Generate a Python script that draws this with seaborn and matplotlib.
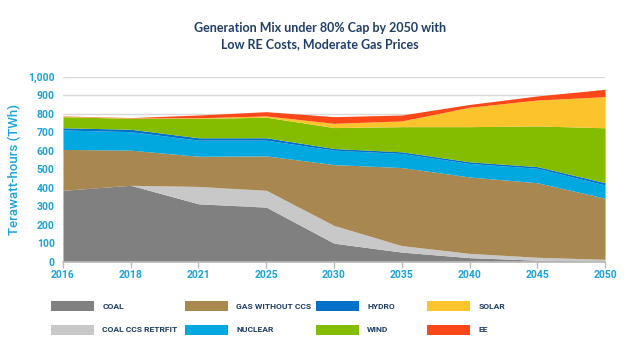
import numpy as np
import pandas as pd
import seaborn as sns
import matplotlib.pyplot as plt
from matplotlib.patches import Patch

# values (TWh)
years = ["2016", "2018", "2021", "2025", "2030", "2035", "2040", "2045", "2050"]
coal = [386, 413, 313, 295, 100, 52, 22, 8, 3]
coal_ccs = [0, 0, 94, 91, 96, 35, 23, 16, 10]
gas = [221, 190, 163, 186, 329, 422, 413, 403, 330]
nuclear = [105, 100, 87, 85, 78, 76, 73, 78, 72]
hydro = [12, 13, 13, 13, 9, 9, 9, 9, 12]
wind = [60, 59, 105, 111, 113, 136, 190, 220, 297]
solar = [2, 2, 3, 7, 23, 31, 105, 140, 168]
ee = [2, 2, 15, 23, 36, 32, 15, 22, 40]

names = ["COAL", "COAL CCS RETRFIT", "GAS WITHOUT CCS", "NUCLEAR",
         "HYDRO", "WIND", "SOLAR", "EE"]
colors = ["#808080", "#c8c8c8", "#a88850", "#00a8e0",
          "#0070c8", "#84bc00", "#fcc42c", "#fc4818"]

BLUE = "#1aa3dc"
NAVY = "#1f3d66"


def main():
    sns.set_theme(style="white")
    df = pd.DataFrame({"Year": years, "COAL": coal, "COAL CCS RETRFIT": coal_ccs,
                       "GAS WITHOUT CCS": gas, "NUCLEAR": nuclear, "HYDRO": hydro,
                       "WIND": wind, "SOLAR": solar, "EE": ee})
    x = np.arange(len(df))

    fig = plt.figure(figsize=(6.4, 3.54), dpi=100)
    ax = fig.add_axes([0.0984, 0.2607, 0.847, 0.5226])

    # horizontal gridlines behind the areas
    for v in range(100, 1001, 100):
        ax.axhline(v, color="#d9d9d9", lw=1, zorder=0)

    ax.stackplot(x, *[df[n] for n in names], colors=colors, lw=0, zorder=2)

    ax.set_xlim(0, len(df) - 1)
    ax.set_ylim(0, 1000)
    ax.set_xticks(x)
    ax.set_xticklabels(df["Year"])
    ax.set_yticks(range(0, 1001, 100))
    ax.set_yticklabels([f"{v:,}" for v in range(0, 1001, 100)])
    for lab in ax.get_xticklabels() + ax.get_yticklabels():
        lab.set_family("Roboto")
        lab.set_weight("bold")
        lab.set_fontsize(7.5)
        lab.set_color(BLUE)
    ax.tick_params(axis="x", length=4, width=1, color="#bbbbbb", pad=2, bottom=True)
    ax.tick_params(axis="y", length=0, pad=6)

    for s in ["top", "right", "left"]:
        ax.spines[s].set_visible(False)
    ax.spines["bottom"].set_color("#bbbbbb")
    ax.spines["bottom"].set_zorder(3)

    ax.set_ylabel("Terawatt-hours (TWh)", family="Roboto", weight="medium",
                  fontsize=9.5, color=BLUE, labelpad=5)

    fig.text(0.5, 0.898, "Generation Mix under 80% Cap by 2050 with\n"
             "Low RE Costs, Moderate Gas Prices", ha="center", va="center",
             family="Lato", weight="bold", fontsize=9, color=NAVY, linespacing=1.45)

    # legend in four fixed columns
    col_x = [51, 185, 316, 427]
    for i, cx in enumerate(col_x):
        handles = [Patch(facecolor=colors[j], edgecolor="none") for j in (2 * i, 2 * i + 1)]
        labels = [names[2 * i], names[2 * i + 1]]
        leg = fig.legend(handles, labels, loc="upper left",
                         bbox_to_anchor=(cx / 640, 1 - 301 / 354),
                         frameon=False, borderpad=0, borderaxespad=0,
                         handlelength=5.1, handleheight=1.45, handletextpad=0.95,
                         labelspacing=1.6,
                         prop={"family": "Roboto", "weight": "bold", "size": 6.1})
        for t in leg.get_texts():
            t.set_color(NAVY)

    fig.savefig("out.png", dpi=100)


if __name__ == "__main__":
    main()
